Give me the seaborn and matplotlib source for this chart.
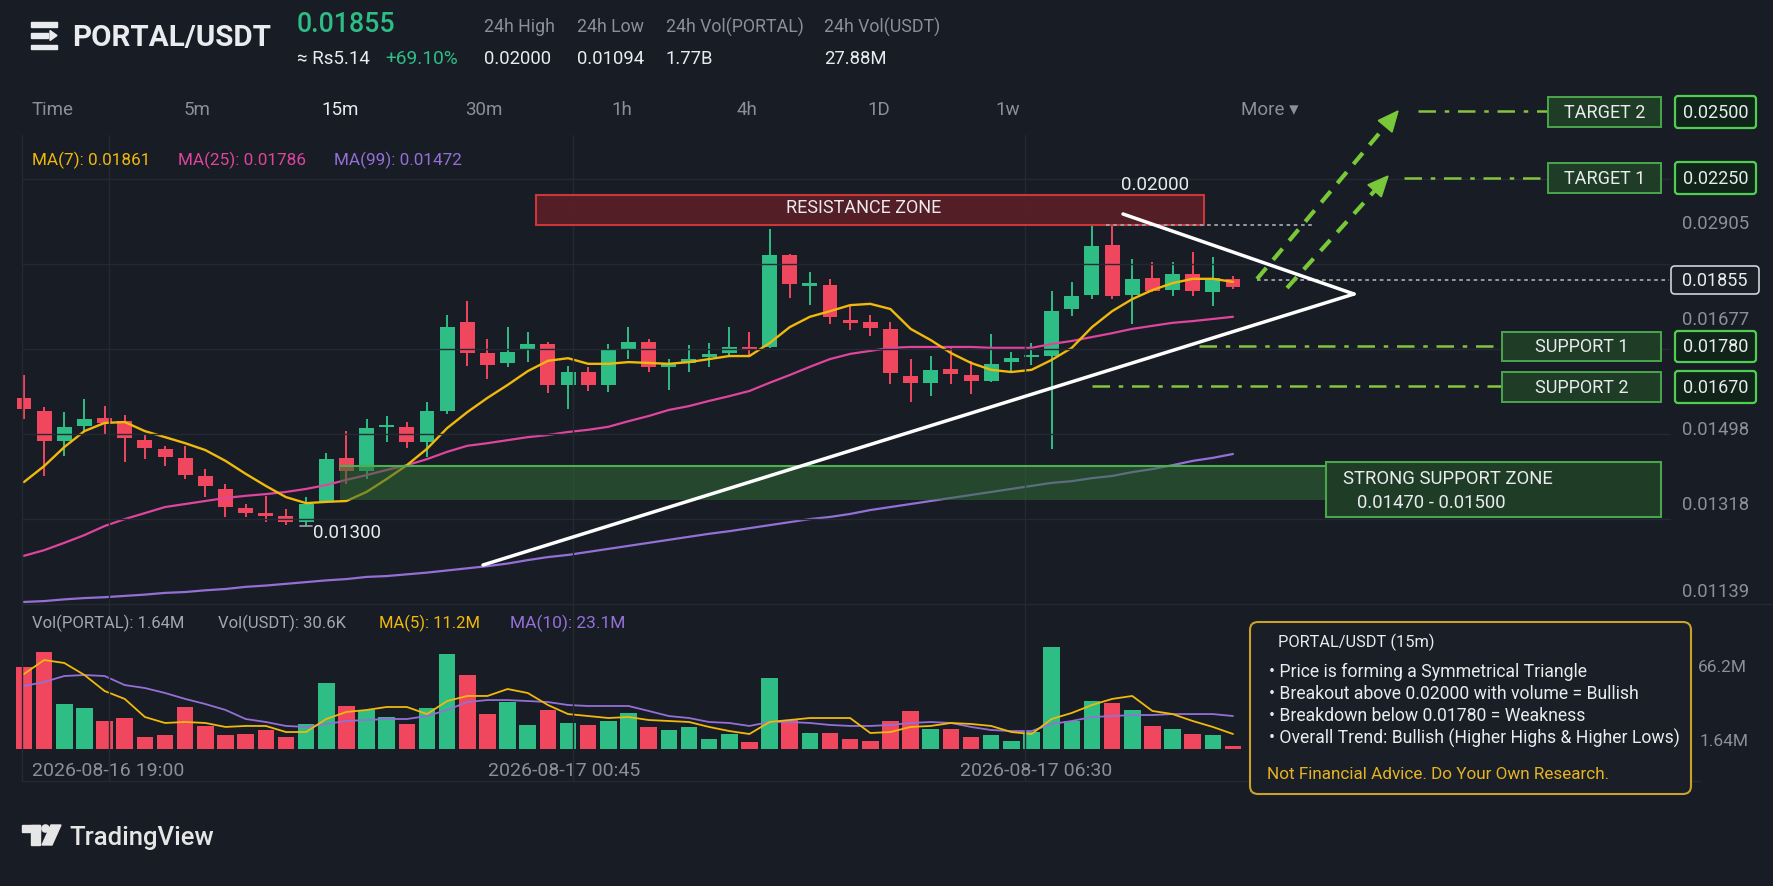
import numpy as np
import pandas as pd
import matplotlib
matplotlib.use("Agg")
import matplotlib.pyplot as plt
import matplotlib.transforms as mtransforms
from matplotlib.patches import Rectangle, FancyBboxPatch, Polygon, Circle
from matplotlib.lines import Line2D
import seaborn as sns

# ---------------- data ----------------
open_ = [0.01597, 0.01567, 0.01497, 0.01532, 0.01550, 0.01543, 0.01499, 0.01479, 0.01458, 0.01416,
         0.01386, 0.01342, 0.01330, 0.01323, 0.01309, 0.01358, 0.01458, 0.01428, 0.01530, 0.01530,
         0.01495, 0.01567, 0.01773, 0.01701, 0.01678, 0.01708, 0.01722, 0.01627, 0.01657, 0.01627,
         0.01708, 0.01727, 0.01669, 0.01678, 0.01692, 0.01701, 0.01715, 0.01715, 0.01928, 0.01856,
         0.01858, 0.01777, 0.01773, 0.01757, 0.01648, 0.01632, 0.01664, 0.01650, 0.01636, 0.01680,
         0.01692, 0.01694, 0.01803, 0.01835, 0.01951, 0.01835, 0.01875, 0.01847, 0.01884, 0.01843,
         0.01873]
high = [0.01650, 0.01576, 0.01564, 0.01594, 0.01578, 0.01557, 0.01513, 0.01485, 0.01485, 0.01432,
        0.01397, 0.01351, 0.01370, 0.01339, 0.01367, 0.01469, 0.01520, 0.01548, 0.01555, 0.01541,
        0.01587, 0.01789, 0.01822, 0.01734, 0.01761, 0.01750, 0.01727, 0.01671, 0.01669, 0.01722,
        0.01761, 0.01734, 0.01687, 0.01720, 0.01724, 0.01761, 0.01750, 0.01988, 0.01930, 0.01889,
        0.01873, 0.01810, 0.01789, 0.01773, 0.01687, 0.01694, 0.01717, 0.01683, 0.01745, 0.01703,
        0.01724, 0.01845, 0.01866, 0.01995, 0.02000, 0.01919, 0.01912, 0.01912, 0.01935, 0.01924,
        0.01880]
low = [0.01548, 0.01416, 0.01462, 0.01520, 0.01513, 0.01448, 0.01455, 0.01439, 0.01409, 0.01367,
       0.01321, 0.01321, 0.01309, 0.01302, 0.01300, 0.01356, 0.01397, 0.01409, 0.01495, 0.01481,
       0.01460, 0.01560, 0.01671, 0.01641, 0.01669, 0.01680, 0.01608, 0.01571, 0.01613, 0.01611,
       0.01687, 0.01657, 0.01615, 0.01657, 0.01669, 0.01692, 0.01692, 0.01713, 0.01829, 0.01812,
       0.01768, 0.01754, 0.01740, 0.01629, 0.01587, 0.01601, 0.01629, 0.01606, 0.01634, 0.01657,
       0.01673, 0.01479, 0.01787, 0.01826, 0.01826, 0.01768, 0.01843, 0.01833, 0.01833, 0.01810,
       0.01850]
close_ = [0.01571, 0.01497, 0.01530, 0.01548, 0.01539, 0.01504, 0.01481, 0.01460, 0.01418, 0.01393,
          0.01344, 0.01330, 0.01323, 0.01310, 0.01351, 0.01455, 0.01428, 0.01527, 0.01534, 0.01495,
          0.01567, 0.01761, 0.01701, 0.01673, 0.01703, 0.01722, 0.01627, 0.01657, 0.01627, 0.01708,
          0.01727, 0.01669, 0.01676, 0.01687, 0.01699, 0.01715, 0.01708, 0.01928, 0.01861, 0.01863,
          0.01784, 0.01770, 0.01759, 0.01655, 0.01632, 0.01662, 0.01652, 0.01636, 0.01676, 0.01689,
          0.01694, 0.01798, 0.01833, 0.01949, 0.01833, 0.01873, 0.01845, 0.01884, 0.01845, 0.01875,
          0.01855]
volume_m = [66.2, 78.3, 36.3, 33.1, 22.6, 25.0, 9.7, 11.3, 33.9, 18.6,
            11.3, 12.1, 15.3, 9.7, 20.2, 53.3, 34.7, 31.5, 25.8, 20.2,
            33.1, 76.7, 59.7, 28.2, 37.9, 19.4, 31.5, 21.0, 19.4, 22.6,
            29.1, 17.8, 15.3, 17.8, 8.1, 12.1, 5.6, 57.3, 23.4, 12.9,
            12.9, 8.1, 6.5, 22.6, 30.7, 16.1, 16.1, 9.7, 11.3, 6.5,
            13.7, 82.3, 22.6, 38.7, 37.1, 31.5, 18.6, 16.1, 12.1, 11.3,
            2.4]
ma7 = [0.01402, 0.01439, 0.01483, 0.01520, 0.01539, 0.01541, 0.01520, 0.01506, 0.01492, 0.01476,
       0.01451, 0.01421, 0.01393, 0.01367, 0.01353, 0.01356, 0.01358, 0.01379, 0.01409, 0.01441,
       0.01479, 0.01527, 0.01564, 0.01597, 0.01627, 0.01659, 0.01683, 0.01689, 0.01676, 0.01676,
       0.01680, 0.01678, 0.01676, 0.01680, 0.01687, 0.01694, 0.01694, 0.01724, 0.01761, 0.01785,
       0.01798, 0.01812, 0.01815, 0.01803, 0.01757, 0.01731, 0.01701, 0.01678, 0.01662, 0.01657,
       0.01662, 0.01685, 0.01713, 0.01761, 0.01798, 0.01826, 0.01847, 0.01863, 0.01873, 0.01873,
       0.01866]
ma25 = [0.01231, 0.01244, 0.01261, 0.01279, 0.01300, 0.01316, 0.01330, 0.01344, 0.01351, 0.01358,
        0.01365, 0.01370, 0.01374, 0.01379, 0.01386, 0.01395, 0.01407, 0.01418, 0.01430, 0.01441,
        0.01455, 0.01472, 0.01486, 0.01492, 0.01499, 0.01506, 0.01511, 0.01518, 0.01523, 0.01530,
        0.01543, 0.01555, 0.01569, 0.01578, 0.01590, 0.01601, 0.01613, 0.01632, 0.01650, 0.01669,
        0.01687, 0.01699, 0.01706, 0.01713, 0.01715, 0.01715, 0.01715, 0.01715, 0.01713, 0.01713,
        0.01713, 0.01722, 0.01729, 0.01738, 0.01747, 0.01757, 0.01764, 0.01771, 0.01775, 0.01780,
        0.01785]
ma99 = [0.01124, 0.01126, 0.01130, 0.01133, 0.01135, 0.01138, 0.01141, 0.01145, 0.01147, 0.01151,
        0.01154, 0.01159, 0.01162, 0.01166, 0.01170, 0.01174, 0.01177, 0.01182, 0.01184, 0.01188,
        0.01192, 0.01197, 0.01202, 0.01207, 0.01213, 0.01221, 0.01228, 0.01233, 0.01240, 0.01247,
        0.01254, 0.01261, 0.01268, 0.01275, 0.01282, 0.01288, 0.01295, 0.01302, 0.01309, 0.01316,
        0.01321, 0.01328, 0.01337, 0.01344, 0.01351, 0.01358, 0.01365, 0.01372, 0.01379, 0.01386,
        0.01393, 0.01400, 0.01404, 0.01411, 0.01416, 0.01425, 0.01432, 0.01441, 0.01451, 0.01458,
        0.01467]
vol_ma5 = [60.5, 71.8, 69.4, 59.7, 46.8, 40.4, 25.8, 21.0, 21.8, 21.0,
           17.8, 18.6, 18.6, 13.7, 13.7, 24.2, 29.9, 31.5, 33.9, 33.9,
           28.2, 38.7, 42.8, 42.8, 48.4, 45.2, 35.5, 28.2, 26.6, 25.0,
           25.8, 23.4, 22.6, 21.8, 17.8, 14.5, 12.1, 21.8, 23.4, 25.0,
           25.0, 25.0, 12.9, 13.7, 17.8, 18.6, 21.0, 20.2, 18.6, 13.7,
           12.1, 24.2, 29.1, 35.5, 40.4, 42.8, 30.7, 28.2, 22.6, 17.8,
           12.1]
vol_ma10 = [50.8, 54.1, 58.9, 59.7, 58.9, 51.6, 49.2, 45.2, 40.4, 36.3,
            31.5, 24.2, 21.8, 18.6, 17.8, 20.2, 22.6, 23.4, 24.2, 24.2,
            26.6, 31.5, 37.9, 39.5, 39.5, 38.7, 37.9, 35.5, 34.7, 34.7,
            34.7, 30.7, 26.6, 25.0, 21.8, 21.0, 18.6, 21.8, 21.8, 21.0,
            19.4, 18.6, 18.6, 19.4, 21.0, 21.8, 21.0, 17.8, 15.3, 14.5,
            14.5, 20.2, 22.6, 25.8, 26.6, 27.4, 27.4, 28.2, 28.2, 28.2,
            26.6]

timeframes = ["Time", "5m", "15m", "30m", "1h", "4h", "1D", "1w", "More \u25be"]
price_axis_labels = ["0.02905", "0.01677", "0.01498", "0.01318", "0.01139"]
date_labels = ["2026-08-16 19:00", "2026-08-17 00:45", "2026-08-17 06:30"]
info_lines = ["\u2022 Price is forming a Symmetrical Triangle",
              "\u2022 Breakout above 0.02000 with volume = Bullish",
              "\u2022 Breakdown below 0.01780 = Weakness",
              "\u2022 Overall Trend: Bullish (Higher Highs & Higher Lows)"]

for arr in (high, low, close_, volume_m, ma7, ma25, ma99, vol_ma5, vol_ma10):
    if len(arr) != len(open_):
        raise ValueError("length mismatch")

# ---------------- style ----------------
W, H = 1774, 887
BG = "#181c25"
GRID = "#242933"
GREEN = "#2ebd85"
RED = "#f0475e"
YEL = "#f0b90b"
PINK = "#e0459e"
PURP = "#9470d6"
GRAY = "#8a8f99"
WHITE = "#e9ebee"
LIME = "#78c83a"

sns.set_theme(style="dark")
plt.rcParams["font.family"] = ["Roboto", "DejaVu Sans"]
plt.rcParams["axes.facecolor"] = BG
plt.rcParams["figure.facecolor"] = BG

fig = plt.figure(figsize=(W / 100, H / 100), dpi=100, facecolor=BG)
PX = mtransforms.Affine2D().scale(1 / W, -1 / H).translate(0, 1) + fig.transFigure

X0, PITCH = 24.0, 20.15
xlim = (-X0 / PITCH, (W - X0) / PITCH)


def frac_rect(top, bottom):
    return [0, 1 - bottom / H, 1, (bottom - top) / H]


ax = fig.add_axes(frac_rect(136, 607))
axv = fig.add_axes(frac_rect(607, 750))

idx = np.arange(len(open_))
o = np.array(open_)
c = np.array(close_)
up = c >= o
cols = np.where(up, GREEN, RED)

# candles
ax.vlines(idx, low, high, colors=cols, lw=1.4, zorder=3)
ax.bar(idx, np.maximum(np.abs(c - o), 0.00004), bottom=np.minimum(o, c), width=0.74,
       color=cols, linewidth=0, zorder=4)
sns.lineplot(x=idx, y=ma99, ax=ax, color=PURP, lw=1.6, zorder=5)
sns.lineplot(x=idx, y=ma25, ax=ax, color=PINK, lw=1.6, zorder=5)
sns.lineplot(x=idx, y=ma7, ax=ax, color=YEL, lw=1.7, zorder=6)

# volume
df_vol = pd.DataFrame({"idx": idx, "vol": volume_m, "dir": np.where(up, "up", "down")})
sns.barplot(data=df_vol, x="idx", y="vol", hue="dir", palette={"up": GREEN, "down": RED},
            native_scale=True, dodge=False, width=0.82, errorbar=None, legend=False,
            saturation=1, linewidth=0, ax=axv)
sns.lineplot(x=idx, y=vol_ma10, ax=axv, color=PURP, lw=1.3, zorder=5)
sns.lineplot(x=idx, y=vol_ma5, ax=axv, color=YEL, lw=1.3, zorder=6)

for a in (ax, axv):
    a.set_facecolor("none")
    a.set_axis_off()
    a.set_xlim(*xlim)
ax.set_ylim(0.011146, 0.022064)
axv.set_ylim(0, 115.4)


# ---------------- helpers for annotations (pixel layout) ----------------
def line(xs, ys, **kw):
    fig.add_artist(Line2D(xs, ys, transform=PX, **kw))


def rect(x0, y0, x1, y1, **kw):
    fig.add_artist(Rectangle((x0, y0), x1 - x0, y1 - y0, transform=PX, **kw))


def rbox(x0, y0, x1, y1, r, **kw):
    fig.add_artist(FancyBboxPatch((x0, y0), x1 - x0, y1 - y0,
                                  boxstyle=f"round,pad=0,rounding_size={r}", transform=PX, **kw))


def txt(x, y, s, **kw):
    kw.setdefault("va", "center")
    kw.setdefault("color", WHITE)
    fig.text(x, y, s, transform=PX, **kw)


def arrow(x0, y0, x1, y1, color, lw=3.0, hl=20, hw=9):
    v = np.array([x1 - x0, y1 - y0], float)
    d = v / np.hypot(*v)
    base = np.array([x1, y1]) - d * hl
    perp = np.array([-d[1], d[0]])
    line([x0, base[0]], [y0, base[1]], color=color, lw=lw, ls=(0, (3.5, 2.5)), zorder=7)
    fig.add_artist(Polygon([(x1, y1), tuple(base + perp * hw), tuple(base - perp * hw)],
                           closed=True, transform=PX, color=color, zorder=7))


# grid
for gy in (180, 265, 350, 435, 520):
    line([22, 1670], [gy, gy], color=GRID, lw=1, zorder=0.5)
for gx in (22, 109, 573, 1025):
    line([gx, gx], [136, 782], color=GRID, lw=1, zorder=0.5)
line([22, 1774], [605, 605], color=GRID, lw=1, zorder=0.5)
line([22, 1700], [782, 782], color=GRID, lw=1, zorder=0.5)

# ---------------- header ----------------
rect(31, 23, 57, 27.5, color=WHITE, zorder=3)
rect(31, 34, 48, 39, color=WHITE, zorder=3)
fig.add_artist(Polygon([(50, 31.5), (57, 36.5), (50, 41.5)], closed=True, transform=PX,
                       color=WHITE, zorder=3))
rect(31, 45.5, 57, 50, color=WHITE, zorder=3)
txt(72, 38, "PORTAL/USDT", fontsize=21.3, fontweight="bold")
txt(297, 24, "0.01855", fontsize=19.3, color=GREEN, fontweight="medium")
txt(297, 59, "\u2248 Rs5.14", fontsize=13.5)
txt(385, 59, "+69.10%", fontsize=13.8, color=GREEN)
for x, lab, val in [(484, "24h High", "0.02000"), (577, "24h Low", "0.01094"),
                    (666, "24h Vol(PORTAL)", "1.77B"), (824, "24h Vol(USDT)", "27.88M")]:
    txt(x, 27, lab, fontsize=12.8, color=GRAY)
    txt(x, 59, val, fontsize=13.3)

tf_x = [32, 184, 321, 465, 611, 737, 867, 995, 1241]
for x, s in zip(tf_x, timeframes):
    txt(x, 110, s, fontsize=13.5, color=WHITE if s == "15m" else GRAY)

txt(32, 160, "MA(7): 0.01861", fontsize=12.3, color=YEL)
txt(178, 160, "MA(25): 0.01786", fontsize=12.3, color=PINK)
txt(334, 160, "MA(99): 0.01472", fontsize=12.3, color=PURP)

# ---------------- price-panel annotations ----------------
# resistance zone
rect(536, 196, 1204, 226, facecolor="#5a1f27", edgecolor="#d8393c", lw=1.5, alpha=0.92, zorder=2)
txt(864, 208, "RESISTANCE ZONE", fontsize=13, ha="center")
txt(1155, 185, "0.02000", fontsize=13.5, ha="center")

# dotted guide lines
line([1106, 1315], [226, 226], color="#a0a5ad", lw=1.3, ls=(0, (2, 2)), zorder=3)
line([1257, 1669], [281, 281], color="#a0a5ad", lw=1.3, ls=(0, (2, 2)), zorder=3)
line([300, 312], [527, 527], color="#a0a5ad", lw=1.2, zorder=3)
txt(313, 533, "0.01300", fontsize=13.5)

# triangle
line([1123, 1354], [215, 295], color="white", lw=2.5, zorder=6, solid_capstyle="round")
line([483, 1354], [566, 295], color="white", lw=2.5, zorder=6, solid_capstyle="round")

# strong support band
rect(340, 467, 1326, 501, facecolor="#2f6b37", edgecolor="none", alpha=0.55, zorder=2)
line([340, 1326], [467, 467], color="#4caf50", lw=1.5, zorder=2)
rect(1326, 463, 1661, 518, facecolor="#1f3d26", edgecolor="#4aa64d", lw=1.5, zorder=3)
txt(1343, 479, "STRONG SUPPORT ZONE", fontsize=13.3)
txt(1357, 503, "0.01470 - 0.01500", fontsize=13.3)

# target / support levels
DASHDOT = (0, (7, 3.5, 1.8, 3.5))
levels = [("TARGET 2", "0.02500", 112, 1418, 1548, 98, 128),
          ("TARGET 1", "0.02250", 179, 1404, 1548, 164, 194),
          ("SUPPORT 1", "0.01780", 347, 1199, 1502, 333, 362),
          ("SUPPORT 2", "0.01670", 387, 1092, 1502, 373, 403)]
for name, val, ly, lx0, bx0, by0, by1 in levels:
    line([lx0, bx0], [ly, ly], color="#86c43f", lw=1.8, ls=DASHDOT, zorder=4)
    rect(bx0, by0, 1661, by1, facecolor="#1f3d26", edgecolor="#4aa64d", lw=1.4, zorder=4)
    txt((bx0 + 1661) / 2, (by0 + by1) / 2, name, fontsize=13, ha="center", zorder=5)
    rbox(1675, by0 - 1, 1756, by1 + 1, 3, facecolor="#10241a", edgecolor="#4fcf4f", lw=1.6, zorder=4)
    txt(1715.5, (by0 + by1) / 2, val, fontsize=13, ha="center", zorder=5)

# breakout arrows
arrow(1257, 280, 1398, 112, LIME)
arrow(1287, 289, 1388, 177, LIME)

# right price axis labels
for s, y in zip(price_axis_labels, (224, 320, 430, 505, 592)):
    txt(1682, y, s, fontsize=13.3, color=GRAY)
rbox(1671, 267, 1759, 295, 4, facecolor="#1b1f27", edgecolor="#cfd3da", lw=1.2, zorder=4)
txt(1715, 281, "0.01855", fontsize=13, ha="center", zorder=5)

# ---------------- volume panel texts ----------------
txt(32, 623, "Vol(PORTAL): 1.64M", fontsize=12, color="#a3a8b0")
txt(218, 623, "Vol(USDT): 30.6K", fontsize=12, color="#a3a8b0")
txt(379, 623, "MA(5): 11.2M", fontsize=12, color=YEL)
txt(510, 623, "MA(10): 23.1M", fontsize=12.5, color=PURP)
txt(1698, 668, "66.2M", fontsize=12.5, color=GRAY)
txt(1700, 742, "1.64M", fontsize=12.5, color=GRAY)
for x, s in zip((32, 488, 960), date_labels):
    txt(x, 771, s, fontsize=14, color=GRAY)

# info box
rbox(1250, 623, 1691, 795, 8, facecolor="#1a1e26", edgecolor="#c9a227", lw=1.5, zorder=8)
txt(1278, 642, "PORTAL/USDT (15m)", fontsize=11.8, zorder=9)
for y, s in zip((672, 694, 716, 738), info_lines):
    txt(1269, y, s, fontsize=12.7, zorder=9)
txt(1267, 775, "Not Financial Advice. Do Your Own Research.", fontsize=12.3, color="#e6b422", zorder=9)

# TradingView logo
LOGO = "#e6e6e6"
rect(22, 826, 40, 833, color=LOGO, zorder=3)
rect(31, 826, 40, 846, color=LOGO, zorder=3)
fig.add_artist(Circle((45.5, 829.5), 3.6, transform=PX, color=LOGO, zorder=3))
fig.add_artist(Polygon([(51, 826), (61, 826), (52, 846), (42, 846)], closed=True,
                       transform=PX, color=LOGO, zorder=3))
txt(69, 838, "TradingView", fontsize=18.5, color=LOGO, fontweight="medium")

fig.savefig("out.png", dpi=100, facecolor=BG)
